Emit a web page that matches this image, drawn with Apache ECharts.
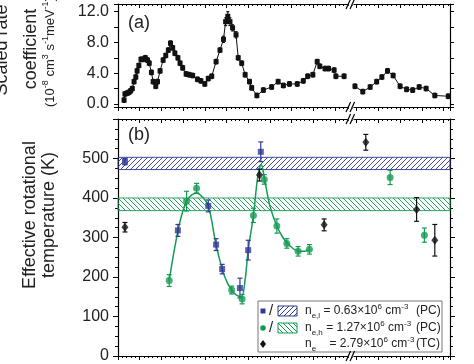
<!DOCTYPE html>
<html><head><meta charset="utf-8">
<script src="https://cdn.jsdelivr.net/npm/echarts@6/dist/echarts.min.js"></script>
<style>html,body{margin:0;padding:0;background:#fff;overflow:hidden}#c{width:474px;height:364px}</style>
</head><body><div id="c"></div>
<script>
// ---------- data ----------
const breakX = 53.7;
const rateX = [1.4,1.6,2.1,2.5,2.9,3.3,3.7,4.1,4.4,4.8,5.3,5.8,6.3,6.8,7.2,7.7,8.1,8.7,9.1,9.7,10.4,11.0,11.6,12.1,12.6,13.1,13.8,14.3,14.9,15.7,16.4,17.2,18.3,19.1,20.0,20.8,21.6,22.6,23.5,24.3,24.8,25.3,25.8,26.4,27.2,27.7,28.5,29.3,30.3,30.8,32.0,33.5,35.4,36.9,38.1,39.5,41.3,42.7,43.7,44.9,45.9,46.5,47.7,48.5,49.8,50.2,52.1,54.6,56.4,58.1,59.6,60.8,62.1,63.4,65.0,66.5,67.9,69.4,71.0,73.0,76.1];
const rateY = [0.5,1.3,1.4,1.5,1.7,2.0,2.9,3.5,4.3,5.0,5.8,5.8,6.0,5.7,5.3,4.1,2.9,2.3,2.9,4.3,5.7,6.3,7.0,7.9,7.3,6.6,6.0,5.3,4.7,3.9,3.8,3.7,3.2,3.0,2.6,3.3,3.6,5.5,7.0,8.4,10.7,11.4,10.7,9.9,9.0,6.0,5.3,3.8,2.9,2.1,1.1,1.8,2.2,2.9,2.4,2.6,2.6,3.0,3.6,3.8,5.5,4.9,4.6,4.6,4.4,3.6,3.6,2.3,1.6,2.2,2.9,3.5,4.3,3.7,2.3,1.9,1.8,2.2,2.0,1.1,1.0];
const rateErr = [0.3,0.3,0.3,0.3,0.3,0.3,0.3,0.3,0.3,0.3,0.3,0.3,0.3,0.3,0.3,0.3,0.3,0.3,0.3,0.3,0.3,0.3,0.3,0.3,0.3,0.3,0.3,0.3,0.3,0.3,0.3,0.3,0.3,0.3,0.3,0.3,0.3,0.3,0.3,0.4,0.5,0.6,0.5,0.4,0.4,0.3,0.3,0.3,0.3,0.3,0.3,0.3,0.3,0.3,0.3,0.3,0.3,0.3,0.3,0.3,0.3,0.3,0.3,0.3,0.3,0.3,0.3,0.3,0.3,0.3,0.3,0.3,0.3,0.3,0.3,0.3,0.3,0.3,0.3,0.3,0.3];

const blueX = [1.6,13.8,20.8,22.6,24.0,28.1,30.0,32.9];
const blueY = [492,318,380,282,220,172,268,517];
const blueErr = [8,15,15,15,12,25,25,25];
const greenX = [11.8,15.8,18.1,26.2,28.6,31.2,33.7,36.6,38.9,41.5,44.1,62.7,70.6];
const greenY = [191,392,425,167,144,356,447,329,285,265,270,452,306];
const greenErr = [15,25,12,10,12,18,12,18,12,12,12,18,18];
const blackX = [1.6,32.6,47.5,57.1,68.8,73.0];
const blackY = [326,458,332,541,371,293];
const blackErr = [12,15,15,20,30,40];
const fitX = [11.8,13.0,14.5,15.8,17.0,18.2,19.4,20.8,22.6,24.0,25.2,26.2,27.3,28.4,29.2,30.0,31.2,32.3,33.0,33.7,35.0,36.6,38.0,39.5,41.5,43.0,44.1];
const fitY = [191,270,350,392,408,412,403,380,282,220,185,167,154,150,185,268,356,462,484,452,380,329,300,280,266,265,270];
const bandLow = [472, 503];
const bandHigh = [368, 400];
const tempTicks = [0, 100, 200, 300, 400, 500];

// ---------- helpers ----------
const BLUE = '#2e3a94', GREEN = '#169b55', BLACK = '#111';
const FONT = '"Liberation Sans", Arial, sans-serif';
function hatch(color, dir) {
  const n = 5, c = document.createElement('canvas'); c.width = n; c.height = n;
  const g = c.getContext('2d'); g.strokeStyle = color; g.lineWidth = 1;
  g.beginPath();
  if (dir > 0) { g.moveTo(-1, n + 1); g.lineTo(n + 1, -1); g.moveTo(-2, 2); g.lineTo(2, -2); g.moveTo(n - 2, n + 2); g.lineTo(n + 2, n - 2); }
  else { g.moveTo(-1, -1); g.lineTo(n + 1, n + 1); g.moveTo(-2, n - 2); g.lineTo(2, n + 2); g.moveTo(n - 2, -2); g.lineTo(n + 2, 2); }
  g.stroke();
  return c;
}
const blueHatch = hatch(BLUE, 1), greenHatch = hatch(GREEN, -1);

function errSeries(xs, ys, es, color, xi, yi, cap) {
  return {
    type: 'custom', xAxisIndex: xi, yAxisIndex: yi, silent: true, z: 3,
    data: xs.map((x, i) => [x, ys[i] - es[i], ys[i] + es[i]]),
    encode: { x: 0, y: [1, 2] },
    renderItem: (p, api) => {
      const lo = api.coord([api.value(0), api.value(1)]);
      const hi = api.coord([api.value(0), api.value(2)]);
      const st = { stroke: color, lineWidth: 1.2 };
      return { type: 'group', children: [
        { type: 'line', shape: { x1: lo[0], y1: lo[1], x2: hi[0], y2: hi[1] }, style: st },
        { type: 'line', shape: { x1: lo[0] - cap, y1: lo[1], x2: lo[0] + cap, y2: lo[1] }, style: st },
        { type: 'line', shape: { x1: hi[0] - cap, y1: hi[1], x2: hi[0] + cap, y2: hi[1] }, style: st }
      ]};
    }
  };
}
// "//" axis-break marks drawn through the library's own scale (top and bottom of the grid)
function breakSeries(xi, yi, yRef) {
  return {
    type: 'custom', xAxisIndex: xi, yAxisIndex: yi, silent: true, z: 30, clip: false,
    data: [[breakX, yRef]], encode: { x: 0, y: 1 },
    renderItem: (p, api) => {
      const cs = p.coordSys;
      const bx = api.coord([api.value(0), api.value(1)])[0];
      const kids = [];
      [cs.y, cs.y + cs.height].forEach(y => {
        kids.push({ type: 'rect', shape: { x: bx - 2.5, y: y - 1.5, width: 5, height: 3 }, style: { fill: '#fff' } });
        kids.push({ type: 'line', shape: { x1: bx - 5, y1: y + 5, x2: bx - 0.5, y2: y - 5 }, style: { stroke: '#000', lineWidth: 1.2 } });
        kids.push({ type: 'line', shape: { x1: bx - 1, y1: y + 5, x2: bx + 3.5, y2: y - 5 }, style: { stroke: '#000', lineWidth: 1.2 } });
      });
      return { type: 'group', children: kids };
    }
  };
}
const zip = (a, b) => a.map((v, i) => [v, b[i]]);
const axLine = () => ({ show: true, onZero: false, lineStyle: { color: '#000', width: 1.2 } });
const tk = (len, inside) => ({ show: true, inside: !!inside, length: len, lineStyle: { color: '#000', width: 1 } });
function xAx(grid, pos, inside) {
  return { type: 'value', gridIndex: grid, position: pos, min: 0, max: 76.5, interval: 5,
    axisLine: axLine(), axisLabel: { show: false }, splitLine: { show: false },
    axisTick: tk(4, inside),
    minorTick: { show: true, splitNumber: 5, length: 2, lineStyle: { color: '#000', width: 1 } } };
}
const rateFmt = v => (v >= 0 && Math.abs(v / 4 - Math.round(v / 4)) < 1e-6) ? v.toFixed(1) : '';
const yAxes = [
  { type: 'value', gridIndex: 0, position: 'left', min: -0.4, max: 13, splitNumber: 7,
    axisLine: axLine(), splitLine: { show: false }, axisTick: tk(4, false),
    axisLabel: { formatter: rateFmt, fontSize: 16, color: '#222', fontFamily: FONT, margin: 9 } },
  { type: 'value', gridIndex: 0, position: 'right', min: -0.4, max: 13, splitNumber: 7,
    axisLine: axLine(), splitLine: { show: false }, axisLabel: { show: false }, axisTick: tk(4, false) },
  { type: 'value', gridIndex: 1, position: 'left', min: 0, max: 600, interval: 100,
    axisLine: axLine(), splitLine: { show: false }, axisTick: tk(5, false),
    minorTick: { show: true, splitNumber: 4, length: 3, lineStyle: { color: '#000', width: 1 } },
    axisLabel: { customValues: tempTicks, fontSize: 16, color: '#222', fontFamily: FONT, margin: 9 } },
  { type: 'value', gridIndex: 1, position: 'right', min: 0, max: 600, interval: 100,
    axisLine: axLine(), splitLine: { show: false }, axisLabel: { show: false }, axisTick: tk(5, false),
    minorTick: { show: true, splitNumber: 4, length: 3, lineStyle: { color: '#000', width: 1 } } }
];

const leftIdx = rateX.findIndex(x => x > breakX);
const rateLine = d => ({ type: 'line', xAxisIndex: 0, yAxisIndex: 0, data: d, symbol: 'rect', symbolSize: 5,
  itemStyle: { color: '#111' }, lineStyle: { color: '#111', width: 1 }, z: 4 });

const series = [
  rateLine(zip(rateX.slice(0, leftIdx), rateY.slice(0, leftIdx))),
  rateLine(zip(rateX.slice(leftIdx), rateY.slice(leftIdx))),
  errSeries(rateX, rateY, rateErr, '#111', 0, 0, 1.5),
  breakSeries(0, 0, 0),
  { type: 'line', xAxisIndex: 2, yAxisIndex: 2, data: [], z: 1, silent: true,
    markArea: { silent: true, data: [
      [{ xAxis: 0, yAxis: bandLow[0], itemStyle: { color: { image: blueHatch, repeat: 'repeat' }, borderColor: BLUE, borderWidth: 1, opacity: 0.9 } }, { xAxis: 76.5, yAxis: bandLow[1] }],
      [{ xAxis: 0, yAxis: bandHigh[0], itemStyle: { color: { image: greenHatch, repeat: 'repeat' }, borderColor: GREEN, borderWidth: 1, opacity: 0.9 } }, { xAxis: 76.5, yAxis: bandHigh[1] }]
    ] } },
  { type: 'line', xAxisIndex: 2, yAxisIndex: 2, data: zip(fitX, fitY), smooth: 0.4, showSymbol: false,
    lineStyle: { color: GREEN, width: 1.5 }, z: 2 },
  errSeries(blueX, blueY, blueErr, BLUE, 2, 2, 2.5),
  errSeries(greenX, greenY, greenErr, GREEN, 2, 2, 2.5),
  errSeries(blackX, blackY, blackErr, BLACK, 2, 2, 2.5),
  { type: 'scatter', xAxisIndex: 2, yAxisIndex: 2, data: zip(blueX, blueY), symbol: 'rect', symbolSize: 6, itemStyle: { color: BLUE }, z: 5 },
  { type: 'scatter', xAxisIndex: 2, yAxisIndex: 2, data: zip(greenX, greenY), symbol: 'circle', symbolSize: 7, itemStyle: { color: GREEN }, z: 5 },
  { type: 'scatter', xAxisIndex: 2, yAxisIndex: 2, data: zip(blackX, blackY), symbol: 'diamond', symbolSize: [7, 9], itemStyle: { color: BLACK }, z: 5 },
  breakSeries(2, 2, 0)
];

const sup = { fontSize: 8, verticalAlign: 'top', lineHeight: 8, fontFamily: FONT, fill: '#222' };
const sub = { fontSize: 8, verticalAlign: 'bottom', lineHeight: 8, fontFamily: FONT, fill: '#222' };
const nrm = { fontSize: 12, lineHeight: 17, fontFamily: FONT, fill: '#222' };
const legRich = { n: nrm, sp: sup, sb: sub };
const legText = (x, y, t) => ({ type: 'text', x: x, y: y, z: 20, style: { text: t, rich: legRich, font: '12px ' + FONT, fill: '#222', align: 'left', verticalAlign: 'middle' } });
const txt = (x, y, t, size, rot) => ({ type: 'text', x: x, y: y, rotation: rot || 0,
  style: { text: t, font: size + 'px ' + FONT, fill: '#222', align: rot ? 'center' : 'left', verticalAlign: 'middle' } });
const graphic = [
  txt(128, 23, '(a)', 18),
  txt(128, 135, '(b)', 18),
  txt(2, 50, 'Scaled rate', 18, Math.PI / 2),
  txt(31, 49, 'coefficient', 18, Math.PI / 2),
  { type: 'text', x: 50, y: 52, rotation: Math.PI / 2, style: {
      text: '{n|(10}{sp|-8}{n| cm}{sp|3}{n| s}{sp|-1}{n|meV}{sp|-1}{n|)}',
      rich: { n: { fontSize: 13, lineHeight: 17, fontFamily: FONT, fill: '#222' }, sp: { fontSize: 9, lineHeight: 9, verticalAlign: 'top', fontFamily: FONT, fill: '#222' } },
      align: 'center', verticalAlign: 'middle' } },
  txt(30, 215, 'Effective rotational', 18, Math.PI / 2),
  txt(49, 215, 'temperature (K)', 18, Math.PI / 2),
  { type: 'rect', z: 19, shape: { x: 258, y: 301, width: 184, height: 51 }, style: { fill: '#fff', stroke: '#777', lineWidth: 1 } },
  { type: 'rect', z: 20, shape: { x: 260.5, y: 308.5, width: 5, height: 5 }, style: { fill: BLUE } },
  { type: 'circle', z: 20, shape: { cx: 263, cy: 328, r: 2.8 }, style: { fill: GREEN } },
  { type: 'polygon', z: 20, shape: { points: [[263, 340], [266, 344], [263, 348], [260, 344]] }, style: { fill: BLACK } },
  Object.assign(txt(269, 311, '/', 15), { z: 20 }),
  Object.assign(txt(269, 328, '/', 15), { z: 20 }),
  { type: 'rect', z: 20, shape: { x: 278, y: 306, width: 19, height: 10 }, style: { fill: { image: blueHatch, repeat: 'repeat' }, stroke: BLUE, lineWidth: 1 } },
  { type: 'rect', z: 20, shape: { x: 278, y: 323, width: 19, height: 10 }, style: { fill: { image: greenHatch, repeat: 'repeat' }, stroke: GREEN, lineWidth: 1 } },
  legText(305, 311, '{n|n}{sb|e,l}{n| = 0.63×10}{sp|6}{n| cm}{sp|-3}'),
  legText(305, 328, '{n|n}{sb|e,h}{n| = 1.27×10}{sp|6}{n| cm}{sp|-3}'),
  legText(305, 344, '{n|n}{sb|e}{n|    = 2.79×10}{sp|6}{n| cm}{sp|-3}'),
  legText(416, 311, '{n|(PC)}'),
  legText(416, 328, '{n|(PC)}'),
  legText(416, 344, '{n|(TC)}')
];

const chart = echarts.init(document.getElementById('c'));
chart.setOption({
  animation: false,
  backgroundColor: '#fff',
  grid: [
    { left: 118, right: 24, top: 4, height: 103 },
    { left: 118, right: 24, top: 119, height: 239 }
  ],
  xAxis: [xAx(0, 'bottom', false), xAx(0, 'top', true), xAx(1, 'bottom', false), xAx(1, 'top', true)],
  yAxis: yAxes,
  series: series,
  graphic: graphic
});
</script>
</body></html>
